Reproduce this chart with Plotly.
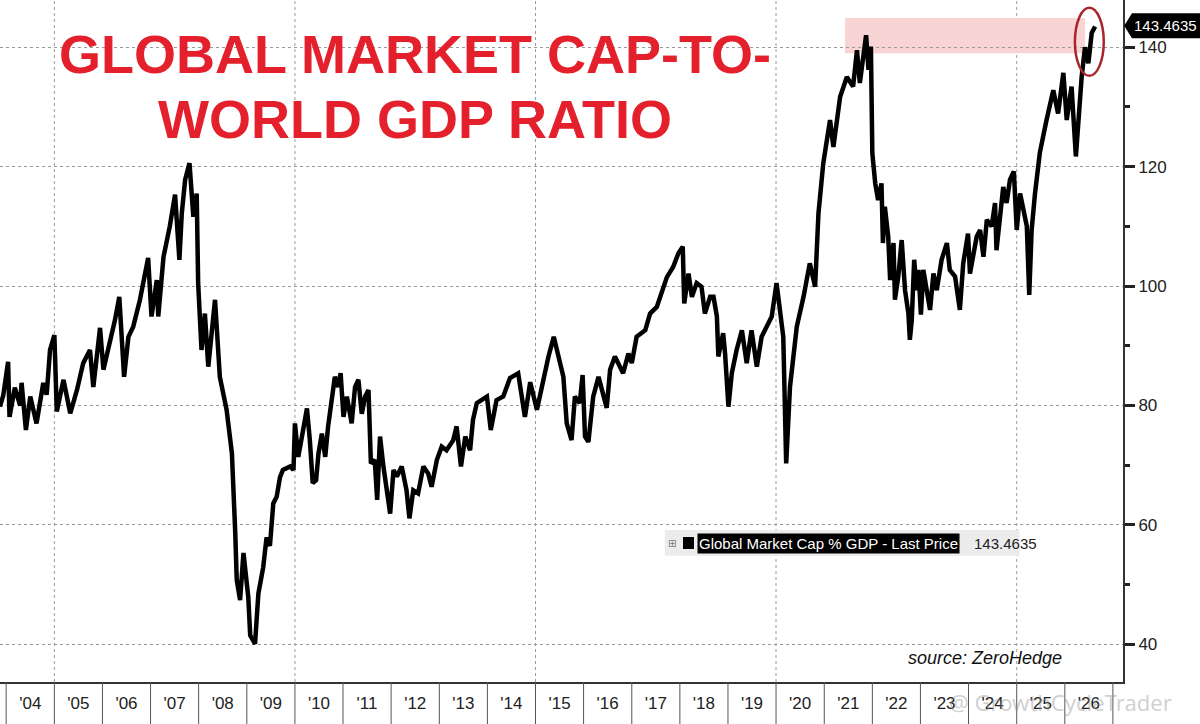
"""
Global market cap to world GDP ratio, Bloomberg style line chart.
"""
import pandas as pd
import plotly.graph_objects as go

# decimal year of each reading
years = [
   2003.87, 2003.94, 2004.04, 2004.07, 2004.18, 2004.29, 2004.32, 2004.41, 2004.50, 2004.63,
   2004.77, 2004.84, 2004.91, 2005.00, 2005.05, 2005.19, 2005.33, 2005.47, 2005.60, 2005.74,
   2005.81, 2005.95, 2006.02, 2006.16, 2006.26, 2006.35, 2006.45, 2006.54, 2006.64, 2006.78,
   2006.95, 2007.02, 2007.13, 2007.16, 2007.27, 2007.40, 2007.51, 2007.60, 2007.65, 2007.72,
   2007.81, 2007.89, 2007.96, 2007.99, 2008.06, 2008.13, 2008.20, 2008.34, 2008.44, 2008.58,
   2008.69, 2008.76, 2008.79, 2008.86, 2008.93, 2009.03, 2009.07, 2009.17, 2009.24, 2009.34,
   2009.41, 2009.48, 2009.55, 2009.62, 2009.69, 2009.75, 2009.90, 2009.97, 2010.00, 2010.07,
   2010.17, 2010.25, 2010.31, 2010.37, 2010.44, 2010.49, 2010.56, 2010.63, 2010.69, 2010.77,
   2010.83, 2010.90, 2010.95, 2011.01, 2011.08, 2011.18, 2011.25, 2011.32, 2011.39, 2011.46,
   2011.53, 2011.58, 2011.66, 2011.71, 2011.77, 2011.84, 2011.91, 2011.98, 2012.05, 2012.12,
   2012.22, 2012.32, 2012.38, 2012.46, 2012.56, 2012.67, 2012.77, 2012.84, 2012.95, 2013.05,
   2013.15, 2013.29, 2013.36, 2013.45, 2013.54, 2013.64, 2013.70, 2013.78, 2013.99, 2014.07,
   2014.19, 2014.33, 2014.47, 2014.64, 2014.78, 2014.89, 2015.03, 2015.16, 2015.27, 2015.38,
   2015.51, 2015.58, 2015.65, 2015.75, 2015.82, 2015.92, 2015.98, 2016.03, 2016.10, 2016.20,
   2016.31, 2016.41, 2016.48, 2016.55, 2016.65, 2016.82, 2016.93, 2017.00, 2017.10, 2017.28,
   2017.38, 2017.52, 2017.59, 2017.73, 2017.86, 2017.97, 2018.06, 2018.09, 2018.18, 2018.25,
   2018.35, 2018.45, 2018.52, 2018.63, 2018.70, 2018.77, 2018.80, 2018.90, 2018.94, 2019.01,
   2019.08, 2019.18, 2019.29, 2019.39, 2019.49, 2019.60, 2019.70, 2019.80, 2019.91, 2020.01,
   2020.05, 2020.15, 2020.21, 2020.29, 2020.43, 2020.57, 2020.70, 2020.81, 2020.88, 2020.98,
   2021.12, 2021.19, 2021.33, 2021.47, 2021.60, 2021.68, 2021.74, 2021.87, 2021.92, 2021.97,
   2022.00, 2022.06, 2022.12, 2022.19, 2022.22, 2022.26, 2022.33, 2022.37, 2022.44, 2022.47,
   2022.54, 2022.61, 2022.68, 2022.75, 2022.78, 2022.82, 2022.87, 2022.92, 2022.96, 2023.01,
   2023.06, 2023.13, 2023.20, 2023.27, 2023.34, 2023.44, 2023.55, 2023.61, 2023.72, 2023.82,
   2023.89, 2023.99, 2024.03, 2024.17, 2024.24, 2024.31, 2024.38, 2024.48, 2024.55, 2024.58,
   2024.65, 2024.72, 2024.79, 2024.86, 2024.94, 2025.00, 2025.07, 2025.14, 2025.21, 2025.26,
   2025.31, 2025.38, 2025.45, 2025.48, 2025.62, 2025.76, 2025.86, 2025.97, 2026.04, 2026.14,
   2026.23, 2026.30, 2026.35, 2026.42, 2026.49, 2026.56, 2026.63,
]

# market cap as % of world GDP
ratio = [
   79.8, 81.7, 87.3, 78.1, 83.0, 80.0, 83.8, 75.9, 81.5, 77.0,
   83.8, 81.8, 89.3, 91.8, 79.0, 84.3, 78.7, 82.6, 87.1, 89.3,
   83.1, 93.0, 86.0, 90.5, 94.3, 98.2, 84.8, 91.5, 93.2, 97.7,
   104.7, 94.9, 101.0, 94.9, 104.9, 110.0, 115.3, 104.4, 112.2, 117.8,
   120.6, 111.6, 115.5, 100.5, 89.3, 95.4, 86.5, 97.7, 84.8, 79.3,
   72.0, 58.6, 50.8, 47.4, 55.3, 47.9, 41.5, 40.1, 48.5, 52.9,
   57.9, 56.5, 63.6, 64.7, 68.0, 69.2, 69.8, 69.2, 77.0, 71.4,
   75.9, 79.5, 74.2, 67.0, 67.5, 72.0, 75.3, 71.4, 76.5, 81.8,
   84.8, 83.1, 85.4, 78.1, 81.5, 77.0, 83.1, 84.3, 78.6, 81.5,
   82.6, 70.3, 70.9, 64.2, 74.8, 69.8, 66.4, 61.9, 69.2, 68.1,
   69.8, 65.8, 61.1, 65.8, 65.3, 69.8, 68.6, 66.4, 70.9, 73.1,
   72.5, 74.2, 76.5, 69.8, 74.8, 72.5, 77.6, 80.4, 81.5, 75.9,
   80.9, 81.5, 84.6, 85.4, 78.1, 83.9, 79.3, 84.3, 88.2, 91.5,
   87.1, 84.8, 77.0, 74.2, 81.5, 80.4, 85.1, 74.8, 73.9, 81.5,
   84.8, 81.5, 79.6, 86.0, 88.2, 85.4, 88.7, 87.1, 91.5, 92.6,
   95.4, 96.5, 98.2, 101.5, 103.2, 105.5, 106.6, 97.1, 102.1, 98.2,
   100.5, 99.9, 95.4, 98.2, 98.2, 94.9, 88.2, 92.1, 88.7, 79.8,
   85.4, 89.3, 92.6, 87.1, 92.6, 86.5, 91.5, 93.2, 94.9, 100.5,
   98.2, 91.5, 70.3, 83.2, 93.2, 98.2, 103.8, 99.9, 112.2, 120.6,
   127.8, 123.3, 131.7, 135.0, 133.4, 139.5, 134.0, 142.0, 136.2, 140.1,
   122.2, 117.2, 114.4, 117.2, 107.2, 113.3, 108.3, 101.0, 107.2, 97.7,
   101.6, 107.7, 99.3, 95.4, 91.0, 94.3, 104.4, 99.3, 102.7, 95.2,
   102.7, 99.3, 96.0, 102.1, 99.3, 104.4, 107.2, 102.7, 101.6, 96.0,
   103.8, 108.8, 102.1, 108.3, 109.4, 104.9, 111.1, 110.0, 113.9, 106.0,
   111.6, 116.6, 113.9, 117.8, 119.2, 109.4, 115.5, 112.2, 110.0, 98.5,
   109.4, 115.5, 119.4, 122.3, 127.8, 132.8, 128.9, 135.7, 127.8, 133.4,
   121.7, 131.2, 135.0, 140.0, 137.3, 142.4, 143.46,
]

last_value = 143.4635
year_marks = list(range(2004, 2028))
grid_years = [2005, 2010, 2015, 2020, 2025]
y_ticks = [40, 60, 80, 100, 120, 140]
zone_low, zone_high = 139.0, 144.9


def to_date(y):
   """ decimal year -> timestamp """
   yr = int(y)
   start = pd.Timestamp(year=yr, month=1, day=1)
   end = pd.Timestamp(year=yr + 1, month=1, day=1)
   return start + (end - start) * (y - yr)


dates = [to_date(y) for y in years]

fig = go.Figure()

fig.add_trace(go.Scatter(
   x=dates, y=ratio,
   mode='lines',
   line=dict(color='black', width=4.5),
   hoverinfo='skip',
   showlegend=False,
))

shapes = []

# pink band around the old high
shapes.append(dict(
   type='rect', xref='x', yref='y', layer='below',
   x0=to_date(2021.43), x1=to_date(2026.42), y0=zone_low, y1=zone_high,
   fillcolor='#f9d4d4', line_width=0,
))

# 5-year dotted gridlines
for g in grid_years:
   shapes.append(dict(
      type='line', xref='x', yref='paper', layer='below',
      x0=to_date(g), x1=to_date(g), y0=0, y1=1,
      line=dict(color='#9a9a9a', width=1, dash='dot'),
   ))

# year separators under the axis
for yr in year_marks:
   shapes.append(dict(
      type='line', xref='x', yref='paper',
      x0=to_date(yr), x1=to_date(yr), y0=0, y1=-0.062,
      line=dict(color='#555555', width=1),
   ))

# red ellipse around the latest points
shapes.append(dict(
   type='circle', xref='x', yref='y',
   x0=to_date(2026.21), x1=to_date(2026.81), y0=135.2, y1=146.6,
   line=dict(color='#a8262b', width=2.5),
))

# last price tag on the right axis
shapes.append(dict(
   type='path', xref='paper', yref='y',
   path='M 1.001 143.6 L 1.008 145.7 L 1.07 145.7 L 1.07 141.5 L 1.008 141.5 Z',
   fillcolor='black', line_width=0,
))

# legend box
shapes.append(dict(
   type='rect', xref='paper', yref='paper',
   x0=0.592, x1=0.908, y0=0.185, y1=0.223,
   fillcolor='#ececec', line_width=0,
))
shapes.append(dict(
   type='rect', xref='paper', yref='paper',
   x0=0.6082, x1=0.618, y0=0.195, y1=0.2126,
   fillcolor='black', line_width=0,
))

title_font = dict(family='Liberation Sans, Arial', size=54, color='#e3202b', weight='bold')

annotations = [
   dict(text='GLOBAL MARKET CAP-TO-', x=0.3695, y=0.921, xref='paper', yref='paper',
        xanchor='center', yanchor='middle', showarrow=False, font=title_font),
   dict(text='WORLD GDP RATIO', x=0.3695, y=0.826, xref='paper', yref='paper',
        xanchor='center', yanchor='middle', showarrow=False, font=title_font),
   dict(text=f'{last_value:.4f}', x=1.038, y=143.6, xref='paper', yref='y',
        xanchor='center', yanchor='middle', showarrow=False,
        font=dict(family='Liberation Sans, Arial', size=15, color='white')),
   dict(text='⊞', x=0.5984, y=0.2038, xref='paper', yref='paper',
        xanchor='center', yanchor='middle', showarrow=False,
        font=dict(family='DejaVu Sans', size=10, color='#777777')),
   dict(text='Global Market Cap % GDP - Last Price', x=0.6207, y=0.2038,
        xref='paper', yref='paper', xanchor='left', yanchor='middle', showarrow=False,
        bgcolor='black', borderpad=1,
        font=dict(family='Liberation Sans, Arial', size=15, color='white')),
   dict(text=f'{last_value:.4f}', x=0.8655, y=0.2038, xref='paper', yref='paper',
        xanchor='left', yanchor='middle', showarrow=False,
        font=dict(family='Liberation Sans, Arial', size=15, color='#222222')),
   dict(text='<i>source: ZeroHedge</i>', x=0.877, y=0.035, xref='paper', yref='paper',
        xanchor='center', yanchor='middle', showarrow=False,
        font=dict(family='Liberation Sans, Arial', size=18, color='#111111')),
   dict(text='@ GrowthCycleTrader', x=0.843, y=-0.03, xref='paper', yref='paper',
        xanchor='left', yanchor='middle', showarrow=False,
        font=dict(family='Noto Sans', size=22, color='rgba(150,150,150,0.45)')),
]

fig.update_layout(
   width=1200, height=724,
   paper_bgcolor='white', plot_bgcolor='white',
   margin=dict(l=0, r=77, t=0, b=42),
   shapes=shapes,
   annotations=annotations,
   showlegend=False,
   xaxis=dict(
      type='date',
      range=[to_date(2003.872), to_date(2027.21)],
      tick0='2004-01-01', dtick='M12',
      ticklabelmode='period', tickformat="'%y",
      ticks='outside', ticklen=5, tickcolor='rgba(0,0,0,0)',
      showgrid=False,
      showline=True, linecolor='#333333', linewidth=2,
      tickfont=dict(family='Liberation Sans, Arial', size=17, color='#222222'),
   ),
   yaxis=dict(
      side='right',
      range=[33.7, 147.9],
      tickvals=y_ticks,
      ticks='outside', ticklen=10, tickwidth=3, tickcolor='#222222',
      showgrid=True, gridcolor='#9a9a9a', griddash='dot', gridwidth=1,
      zeroline=False,
      showline=True, linecolor='#333333', linewidth=2,
      minor=dict(dtick=10, tick0=30, ticks='outside', ticklen=5, tickcolor='#222222'),
      tickfont=dict(family='Liberation Sans, Arial', size=17, color='#222222'),
   ),
)

# page body has an 8px default margin, drop it so the figure fills the window
fig.write_html('out.html', config={'displayModeBar': False},
               post_script="document.body.style.margin='0';")
